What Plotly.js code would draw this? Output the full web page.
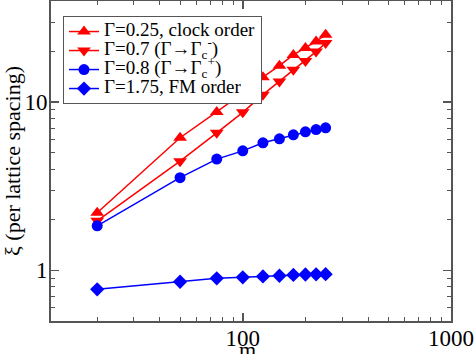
<!DOCTYPE html>
<html>
<head>
<meta charset="utf-8">
<script src="https://cdn.plot.ly/plotly-3.0.1.min.js"></script>
<style>html,body{margin:0;padding:0;background:#fff;}#chart{width:474px;height:354px;}</style>
</head>
<body>
<div id="chart"></div>
<script>
const m = [20, 50, 75, 100, 125, 150, 175, 200, 225, 250];
const xiClock = [2.2, 6.15, 8.76, 11.35, 14.1, 16.5, 19.1, 21.0, 23.0, 25.2];
const xiMinus = [1.97, 4.46, 6.58, 8.71, 11.09, 13.3, 15.6, 17.6, 20.0, 22.5];
const xiPlus = [1.84, 3.56, 4.59, 5.14, 5.74, 6.06, 6.40, 6.67, 6.88, 7.04];
const xiFM = [0.771, 0.856, 0.897, 0.909, 0.921, 0.929, 0.940, 0.945, 0.948, 0.950];
const names = [
  'Γ=0.25, clock order',
  'Γ=0.7 (Γ→Γ<sub>c</sub><sup>-</sup>)',
  'Γ=0.8 (Γ→Γ<sub>c</sub><sup>+</sup>)',
  'Γ=1.75, FM order'
];
const RED = '#ff0000', BLUE = '#0000ff';
function tr(y, name, color, symbol, size) {
  return {x: m, y: y, name: '<span style="font-size:19px">' + name + '</span>',
    type: 'scatter', mode: 'lines+markers',
    line: {color: color, width: 1.5},
    marker: {color: color, symbol: symbol, size: size}};
}
const data = [
  tr(xiClock, names[0], RED, 'triangle-up', 12),
  tr(xiMinus, names[1], RED, 'triangle-down', 12),
  tr(xiPlus, names[2], BLUE, 'circle', 11),
  tr(xiFM, names[3], BLUE, 'diamond', 11)
];
const FONT = '"Liberation Serif", "Times New Roman", serif';
const axisCommon = {
  type: 'log', showgrid: false, zeroline: false,
  showline: true, linecolor: '#555', linewidth: 2, mirror: 'allticks',
  ticks: 'inside', ticklen: 8, tickwidth: 1.5, tickcolor: '#555', dtick: 1,
  tickfont: {family: FONT, size: 23, color: '#000'},
  minor: {ticks: 'inside', ticklen: 4, tickwidth: 1, tickcolor: '#555', dtick: 'D1', showgrid: false},
  ticklabeloverflow: 'allow'
};
const layout = {
  width: 474, height: 354,
  margin: {l: 51, r: 23, t: 1, b: 33},
  paper_bgcolor: '#fff', plot_bgcolor: '#fff',
  font: {family: FONT, color: '#000'},
  showlegend: true,
  xaxis: Object.assign({}, axisCommon, {
    range: [Math.log10(12), 3],
    ticklabelstandoff: -5
  }),
  yaxis: Object.assign({}, axisCommon, {
    range: [Math.log10(0.5), Math.log10(40)],
    ticklabelstandoff: -3,
    title: {text: 'ξ (per lattice spacing)', font: {family: FONT, size: 22, color: '#000'}}
  }),
  annotations: [{
    text: 'm', xref: 'paper', yref: 'paper', x: 0.49, y: -0.09,
    xanchor: 'center', yanchor: 'middle', showarrow: false,
    font: {family: FONT, size: 22, color: '#000'}
  }],
  legend: {
    x: 0.03, y: 0.953, xanchor: 'left', yanchor: 'top',
    bgcolor: '#fff', bordercolor: '#555', borderwidth: 1,
    font: {family: FONT, size: 11, color: '#000'},
    tracegroupgap: 0, itemwidth: 30
  }
};
Plotly.newPlot('chart', data, layout, {displayModeBar: false, staticPlot: true});
</script>
</body>
</html>
